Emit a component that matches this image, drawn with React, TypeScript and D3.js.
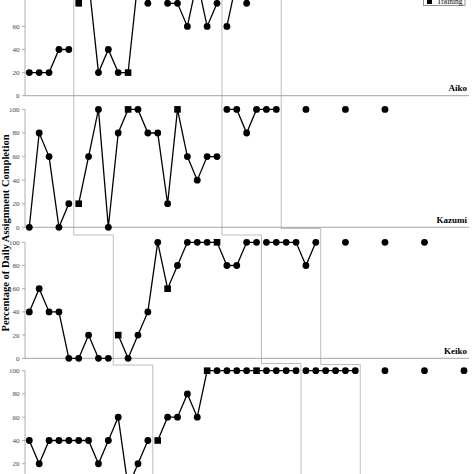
import * as d3 from "d3";

// session values, per participant and phase
const aikoBaseline = [20, 20, 20, 40, 40];
const aikoTraining = [80, 100, 20, 40, 20, 20, 100, 80, 100, 80, 80, 60, 100, 60, 80];
const aikoMaintenance = [60, 100, 80, 100, 100, 100];
const aikoFollowUp = [100, 100, 100];
const aikoFollowSessions = [29, 33, 37];
const aikoSquares = [6, 11];

const kazumiBaseline = [0, 80, 60, 0, 20];
const kazumiTraining = [20, 60, 100, 0, 80, 100, 100, 80, 80, 20, 100, 60, 40, 60, 60];
const kazumiMaintenance = [100, 100, 80, 100, 100, 100];
const kazumiFollowUp = [100, 100, 100];
const kazumiFollowSessions = [29, 33, 37];
const kazumiSquares = [6, 11, 16];

const keikoBaseline = [40, 60, 40, 40, 0, 0, 20, 0, 0];
const keikoTraining = [20, 0, 20, 40, 100, 60, 80, 100, 100, 100, 100, 80, 80, 100, 100];
const keikoMaintenance = [100, 100, 100, 100, 80, 100];
const keikoFollowUp = [100, 100, 100];
const keikoFollowSessions = [33, 37, 41];
const keikoSquares = [10, 15, 20];

const fourthBaseline = [40, 20, 40, 40, 40, 40, 40, 20, 40, 60, 0, 20, 40];
const fourthTraining = [40, 60, 60, 80, 60, 100, 100, 100, 100, 100, 100, 100, 100, 100, 100];
const fourthMaintenance = [100, 100, 100, 100, 100, 100];
const fourthFollowUp = [100, 100, 100];
const fourthFollowSessions = [37, 41, 45];
const fourthSquares = [14, 19, 24];

const yTicks = [0, 20, 40, 60, 80, 100];

const W = 474;
const H = 474;
const serif = "'Liberation Serif', 'Times New Roman', serif";

const x = d3.scaleLinear().domain([1, 45]).range([29.3, 464]);

type Panel = {
  name: string;
  y0: number;
  y100: number;
  baseline: number[];
  training: number[];
  maintenance: number[];
  followUp: number[];
  followSessions: number[];
  squares: number[];
};

const panels: Panel[] = [
  { name: "Aiko", y0: 95.7, y100: -19.8, baseline: aikoBaseline, training: aikoTraining, maintenance: aikoMaintenance, followUp: aikoFollowUp, followSessions: aikoFollowSessions, squares: aikoSquares },
  { name: "Kazumi", y0: 227.3, y100: 109.4, baseline: kazumiBaseline, training: kazumiTraining, maintenance: kazumiMaintenance, followUp: kazumiFollowUp, followSessions: kazumiFollowSessions, squares: kazumiSquares },
  { name: "Keiko", y0: 358.3, y100: 242.3, baseline: keikoBaseline, training: keikoTraining, maintenance: keikoMaintenance, followUp: keikoFollowUp, followSessions: keikoFollowSessions, squares: keikoSquares },
  { name: "", y0: 487, y100: 370.7, baseline: fourthBaseline, training: fourthTraining, maintenance: fourthMaintenance, followUp: fourthFollowUp, followSessions: fourthFollowSessions, squares: fourthSquares },
];

type Pt = { s: number; v: number };

function phaseRuns(p: Panel): Pt[][] {
  const runs: Pt[][] = [];
  let start = 1;
  for (const vals of [p.baseline, p.training, p.maintenance]) {
    runs.push(vals.map((v, i) => ({ s: start + i, v })));
    start += vals.length;
  }
  return runs;
}

function phaseLines(p: Panel): number[] {
  const a = p.baseline.length + 0.5;
  const b = a + p.training.length;
  const c = b + p.maintenance.length;
  return [a, b, c];
}

// where the staircase steps between panels (below Kazumi, below Keiko)
const stepY1 = [235, 235, 228.5];
const stepY2 = [365, 363.5, 364.5];

function PanelView({ p }: { p: Panel }) {
  const y = d3.scaleLinear().domain([0, 100]).range([p.y0, p.y100]);
  const line = d3
    .line<Pt>()
    .x((d) => x(d.s))
    .y((d) => y(d.v));
  const runs = phaseRuns(p);
  const all = [...runs.flat(), ...p.followUp.map((v, i) => ({ s: p.followSessions[i], v }))];
  // tick labels that fall outside the cropped picture are not drawn
  const shownTicks = yTicks.filter((t) => y(t) > 4 && y(t) < H - 4);
  return (
    <g>
      <line x1={25} x2={25} y1={y(0)} y2={y(100)} stroke="#9a9a9a" strokeWidth={0.8} />
      <line x1={25} x2={469} y1={y(0)} y2={y(0)} stroke="#9a9a9a" strokeWidth={0.9} />
      {shownTicks.map((t) => (
        <g key={t}>
          <line x1={22} x2={25} y1={y(t)} y2={y(t)} stroke="#9a9a9a" strokeWidth={0.8} />
          <text x={19.5} y={y(t) + 2.4} textAnchor="end" fontSize={7} fontFamily={serif} fill="#444">
            {t}
          </text>
        </g>
      ))}
      {runs.map((r, i) => (
        <path key={i} d={line(r) ?? ""} fill="none" stroke="#000" strokeWidth={1.3} />
      ))}
      {all.map((d, i) =>
        p.squares.includes(d.s) ? (
          <rect key={i} x={x(d.s) - 3.3} y={y(d.v) - 3.3} width={6.6} height={6.6} fill="#000" />
        ) : (
          <circle key={i} cx={x(d.s)} cy={y(d.v)} r={3.4} fill="#000" />
        ),
      )}
      {p.name && (
        <text x={467} y={p.y0 - 4.5} textAnchor="end" fontSize={9} fontWeight="bold" fontFamily={serif} fill="#000">
          {p.name}
        </text>
      )}
    </g>
  );
}

export default function App() {
  const top = phaseLines(panels[0]);
  const mid = phaseLines(panels[2]);
  const bot = phaseLines(panels[3]);
  const stairs = top.map(
    (s, k) =>
      `M${x(s)},0V${stepY1[k]}H${x(mid[k])}V${stepY2[k]}H${x(bot[k])}V${H}`,
  );
  return (
    <svg
      width={W}
      height={H}
      style={{ position: "absolute", left: 0, top: 0, background: "#fff", overflow: "hidden" }}
    >
      <rect width={W} height={H} fill="#fff" />
      {stairs.map((d, i) => (
        <path key={i} d={d} fill="none" stroke="#bdbdbd" strokeWidth={1} />
      ))}
      {panels.map((p, i) => (
        <PanelView key={i} p={p} />
      ))}
      <text
        transform="translate(8.5,233) rotate(-90)"
        textAnchor="middle"
        fontSize={10.5}
        fontWeight="bold"
        fontFamily={serif}
        fill="#000"
      >
        Percentage of Daily Assignment Completion
      </text>
      <g>
        <rect x={423.5} y={-20} width={41.5} height={25.5} fill="#fff" stroke="#777" strokeWidth={0.8} />
        <rect x={427} y={-0.5} width={5} height={4.5} fill="#000" />
        <text x={437} y={3.6} fontSize={7.5} fontFamily={serif} fill="#000">
          Training
        </text>
      </g>
    </svg>
  );
}
